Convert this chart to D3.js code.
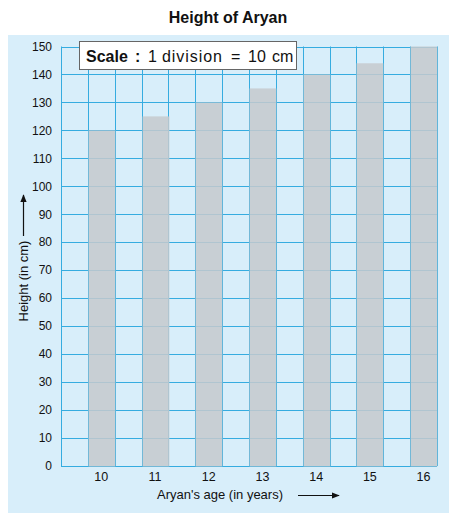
<!DOCTYPE html>
<html>
<head>
<meta charset="utf-8">
<script src="https://cdn.jsdelivr.net/npm/d3@7"></script>
<style>
  body { margin: 0; background: #fff; }
  text { font-family: "Liberation Sans", Arial, sans-serif; }
</style>
</head>
<body>
<svg></svg>
<script>
const width = 454;
const height = 521;

// data
const ages = [10, 11, 12, 13, 14, 15, 16];
const heights = [120, 125, 130, 135, 140, 144, 150];
const yTicks = d3.range(0, 151, 10);

const plotLeft = 61, plotRight = 437, plotTop = 46.5, plotBottom = 466;
const cols = 14;
const colW = (plotRight - plotLeft) / cols;

const svg = d3.select('svg')
  .attr('width', width)
  .attr('height', height);

// panel
svg.append('rect')
  .attr('x', 8).attr('y', 35)
  .attr('width', 441).attr('height', 478)
  .attr('fill', '#d8eefa');

svg.append('text')
  .attr('x', 228).attr('y', 23)
  .attr('text-anchor', 'middle')
  .attr('font-size', 16).attr('font-weight', 'bold')
  .attr('fill', '#111')
  .text('Height of Aryan');

const x = d3.scaleBand()
  .domain(ages)
  .range([plotLeft + colW, plotRight])
  .paddingInner(0.5)
  .paddingOuter(0);

const y = d3.scaleLinear()
  .domain([0, 150])
  .range([plotBottom, plotTop]);

// grid
const grid = svg.append('g').attr('stroke', '#35ace0').attr('stroke-width', 1);
grid.selectAll('line.h')
  .data(yTicks)
  .enter().append('line')
    .attr('class', 'h')
    .attr('x1', plotLeft).attr('x2', plotRight)
    .attr('y1', d => Math.round(y(d)) + 0.5)
    .attr('y2', d => Math.round(y(d)) + 0.5);
grid.selectAll('line.v')
  .data(d3.range(cols + 1))
  .enter().append('line')
    .attr('class', 'v')
    .attr('y1', plotTop).attr('y2', plotBottom)
    .attr('x1', i => Math.round(plotLeft + i * colW) + 0.5)
    .attr('x2', i => Math.round(plotLeft + i * colW) + 0.5);

// bars
svg.append('g')
  .selectAll('rect')
  .data(ages)
  .enter().append('rect')
    .attr('x', d => Math.round(x(d)) + 0.5)
    .attr('width', x.bandwidth())
    .attr('y', (d, i) => y(heights[i]))
    .attr('height', (d, i) => plotBottom - y(heights[i]) + 0.5)
    .attr('fill', '#c6c9cd')
    .attr('fill-opacity', 0.85);

// y tick labels
svg.append('g')
  .selectAll('text')
  .data(yTicks)
  .enter().append('text')
    .attr('x', 52)
    .attr('y', d => y(d))
    .attr('dy', '0.35em')
    .attr('text-anchor', 'end')
    .attr('font-size', 12)
    .attr('fill', '#111')
    .text(d => d);

// x tick labels
svg.append('g')
  .selectAll('text')
  .data(ages)
  .enter().append('text')
    .attr('x', d => x(d) + x.bandwidth() / 2)
    .attr('y', 481)
    .attr('text-anchor', 'middle')
    .attr('font-size', 12.5)
    .attr('fill', '#111')
    .text(d => d);

// arrowhead
svg.append('defs').append('marker')
  .attr('id', 'arrow')
  .attr('viewBox', '0 0 10 10')
  .attr('refX', 9).attr('refY', 5)
  .attr('markerWidth', 8).attr('markerHeight', 8)
  .attr('markerUnits', 'userSpaceOnUse')
  .attr('orient', 'auto')
  .append('path')
    .attr('d', 'M0,1 L10,5 L0,9 Z')
    .attr('fill', '#111');

// x axis title
svg.append('text')
  .attr('x', 220).attr('y', 499)
  .attr('text-anchor', 'middle')
  .attr('font-size', 13)
  .attr('fill', '#111')
  .text("Aryan's age (in years)");
svg.append('line')
  .attr('x1', 298).attr('x2', 339)
  .attr('y1', 495.5).attr('y2', 495.5)
  .attr('stroke', '#111').attr('stroke-width', 1.2)
  .attr('marker-end', 'url(#arrow)');

// y axis title
svg.append('text')
  .attr('transform', 'translate(28,281) rotate(-90)')
  .attr('text-anchor', 'middle')
  .attr('font-size', 13)
  .attr('fill', '#111')
  .text('Height (in cm)');
svg.append('line')
  .attr('x1', 23.5).attr('x2', 23.5)
  .attr('y1', 236).attr('y2', 195)
  .attr('stroke', '#111').attr('stroke-width', 1.2)
  .attr('marker-end', 'url(#arrow)');

// scale box
svg.append('rect')
  .attr('x', 79.5).attr('y', 41.5)
  .attr('width', 217).attr('height', 28)
  .attr('fill', '#fff')
  .attr('stroke', '#666').attr('stroke-width', 1);

const scaleText = svg.append('text')
  .attr('y', 61.5)
  .attr('font-size', 16)
  .attr('fill', '#111');
scaleText.append('tspan').attr('x', 86).attr('font-weight', 'bold').text('Scale');
scaleText.append('tspan').attr('x', 135).attr('font-weight', 'bold').text(':');
scaleText.append('tspan').attr('x', 148).text('1');
scaleText.append('tspan').attr('x', 162).attr('textLength', 60).text('division');
scaleText.append('tspan').attr('x', 231).text('=');
scaleText.append('tspan').attr('x', 248).text('10');
scaleText.append('tspan').attr('x', 272).text('cm');
</script>
</body>
</html>
